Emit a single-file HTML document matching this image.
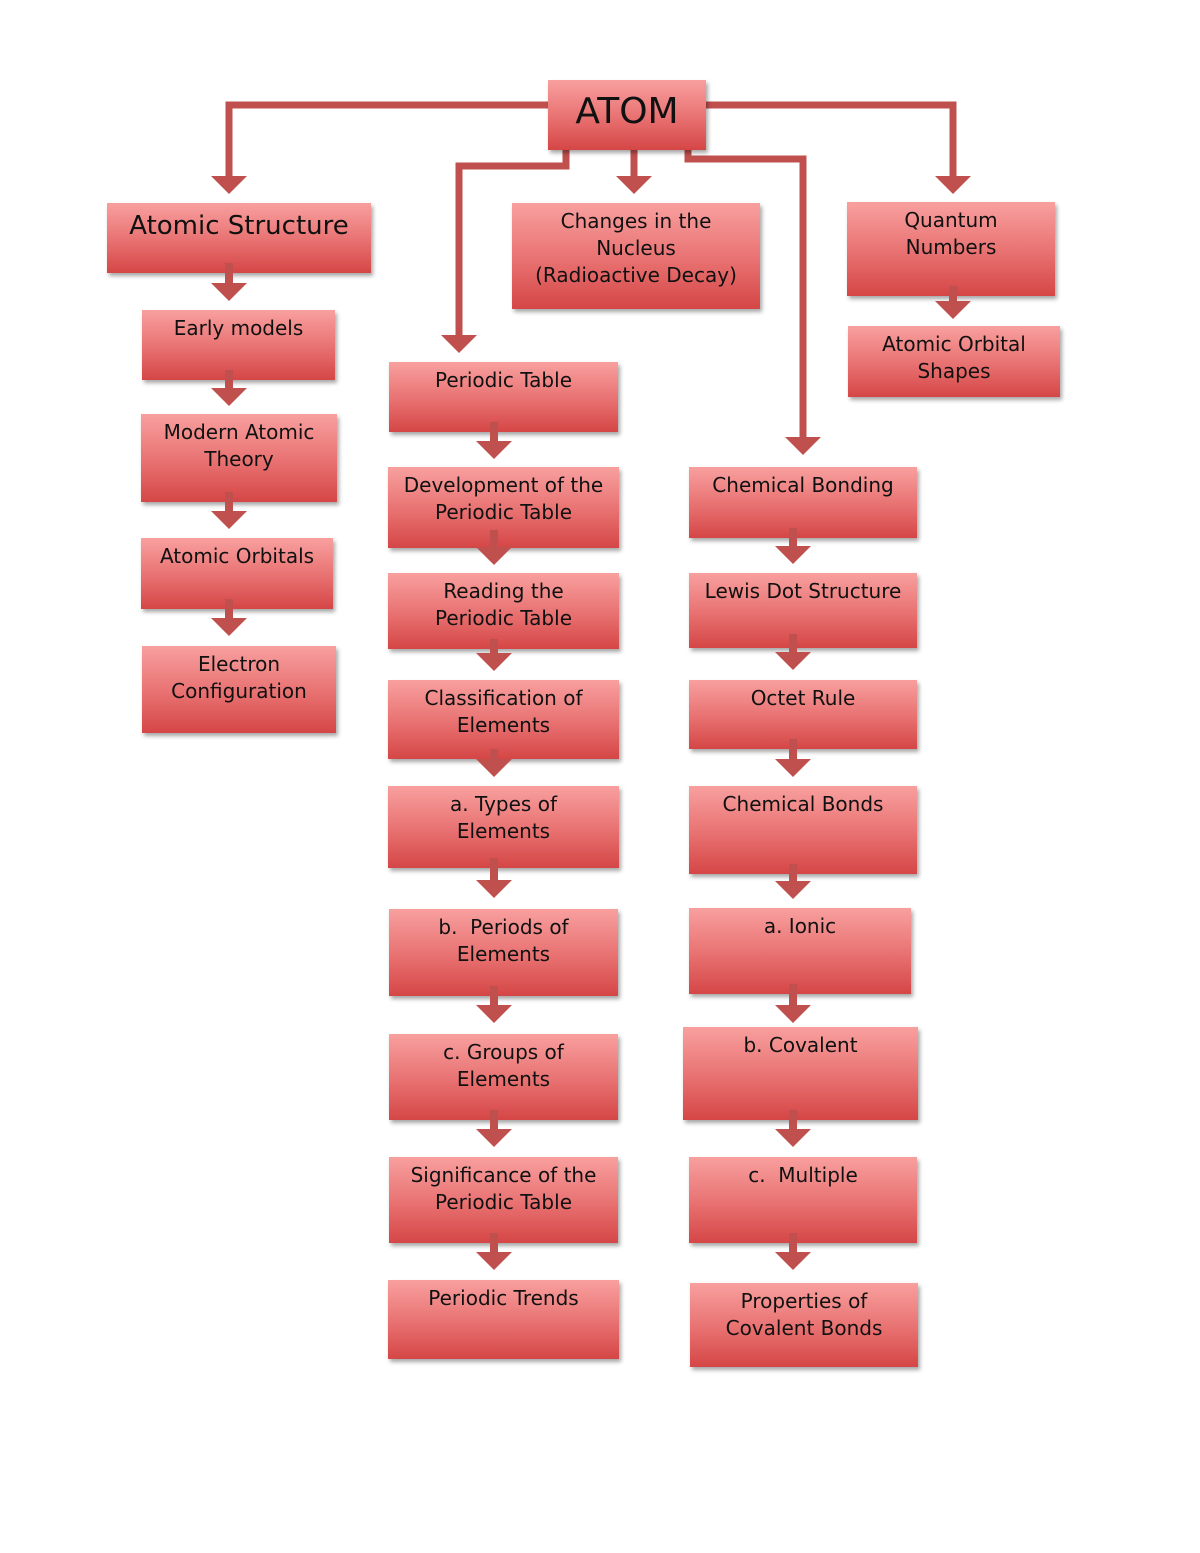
<!DOCTYPE html>
<html><head><meta charset="utf-8"><style>
body{margin:0;background:#fff;width:1200px;height:1553px;position:relative;overflow:hidden;font-family:"DejaVu Sans","Liberation Sans",sans-serif}
.b{position:absolute;box-sizing:border-box;background:linear-gradient(#f8a09f,#e87070 55%,#d54646);box-shadow:2px 3px 4px rgba(0,0,0,0.35);text-align:center;font-size:20px;line-height:27px;color:#111;padding-top:5px}
svg{position:absolute;left:0;top:0}
</style></head><body>
<svg width="1200" height="1553">
<g fill="none" stroke="#c0504d" stroke-width="7">
<polyline points="560,105 229,105 229,178"/>
<polyline points="700,105 953,105 953,178"/>
<polyline points="634,150 634,178"/>
<polyline points="566,150 566,166 459,166 459,337"/>
<polyline points="688,150 688,159 803,159 803,440"/>
</g>
<g fill="#c0504d">
<polygon points="211,176 247,176 229,194"/>
<polygon points="935,176 971,176 953,194"/>
<polygon points="616,176 652,176 634,194"/>
<polygon points="441,335 477,335 459,353"/>
<polygon points="785,437 821,437 803,455"/>
</g>
<g fill="#c0504d" opacity="0.9" id="sm">
</g>
</svg>
<svg width="1200" height="1553" style="z-index:2">
<g fill="#c0504d">
<!-- x, tip -->
<path d="M225,263h8v20h14l-18,18l-18,-18h14z"/>
<path d="M225,370h8v18h14l-18,18l-18,-18h14z"/>
<path d="M225,492h8v19h14l-18,18l-18,-18h14z"/>
<path d="M225,599h8v19h14l-18,18l-18,-18h14z"/>
<path d="M490,422h8v19h14l-18,18l-18,-18h14z"/>
<path d="M490,530h8v17h14l-18,18l-18,-18h14z"/>
<path d="M490,639h8v14h14l-18,18l-18,-18h14z"/>
<path d="M490,749h8v10h14l-18,18l-18,-18h14z"/>
<path d="M490,858h8v22h14l-18,18l-18,-18h14z"/>
<path d="M490,986h8v19h14l-18,18l-18,-18h14z"/>
<path d="M490,1110h8v19h14l-18,18l-18,-18h14z"/>
<path d="M490,1233h8v19h14l-18,18l-18,-18h14z"/>
<path d="M789,528h8v18h14l-18,18l-18,-18h14z"/>
<path d="M789,634h8v18h14l-18,18l-18,-18h14z"/>
<path d="M789,739h8v20h14l-18,18l-18,-18h14z"/>
<path d="M789,864h8v17h14l-18,18l-18,-18h14z"/>
<path d="M789,984h8v21h14l-18,18l-18,-18h14z"/>
<path d="M789,1110h8v19h14l-18,18l-18,-18h14z"/>
<path d="M789,1233h8v19h14l-18,18l-18,-18h14z"/>
<path d="M949,286h8v15h14l-18,18l-18,-18h14z"/>
</g>
</svg>
<div class="b" style="left:548px;top:80px;width:158px;height:70px;font-size:36px;line-height:52px;padding-top:6px">ATOM</div>
<div class="b" style="left:107px;top:203px;width:264px;height:70px;font-size:26px;line-height:38px;padding-top:4px">Atomic Structure</div>
<div class="b" style="left:142px;top:310px;width:193px;height:70px">Early models</div>
<div class="b" style="left:141px;top:414px;width:196px;height:88px">Modern Atomic<br>Theory</div>
<div class="b" style="left:141px;top:538px;width:192px;height:71px">Atomic Orbitals</div>
<div class="b" style="left:142px;top:646px;width:194px;height:87px">Electron<br>Configuration</div>
<div class="b" style="left:512px;top:203px;width:248px;height:106px">Changes in the<br>Nucleus<br>(Radioactive Decay)</div>
<div class="b" style="left:847px;top:202px;width:208px;height:94px">Quantum<br>Numbers</div>
<div class="b" style="left:848px;top:326px;width:212px;height:71px">Atomic Orbital<br>Shapes</div>
<div class="b" style="left:389px;top:362px;width:229px;height:70px">Periodic Table</div>
<div class="b" style="left:388px;top:467px;width:231px;height:81px">Development of the<br>Periodic Table</div>
<div class="b" style="left:388px;top:573px;width:231px;height:76px">Reading the<br>Periodic Table</div>
<div class="b" style="left:388px;top:680px;width:231px;height:79px">Classification of<br>Elements</div>
<div class="b" style="left:388px;top:786px;width:231px;height:82px">a. Types of<br>Elements</div>
<div class="b" style="left:389px;top:909px;width:229px;height:87px">b.&nbsp; Periods of<br>Elements</div>
<div class="b" style="left:389px;top:1034px;width:229px;height:86px">c. Groups of<br>Elements</div>
<div class="b" style="left:389px;top:1157px;width:229px;height:86px">Significance of the<br>Periodic Table</div>
<div class="b" style="left:388px;top:1280px;width:231px;height:79px">Periodic Trends</div>
<div class="b" style="left:689px;top:467px;width:228px;height:71px">Chemical Bonding</div>
<div class="b" style="left:689px;top:573px;width:228px;height:75px">Lewis Dot Structure</div>
<div class="b" style="left:689px;top:680px;width:228px;height:69px">Octet Rule</div>
<div class="b" style="left:689px;top:786px;width:228px;height:88px">Chemical Bonds</div>
<div class="b" style="left:689px;top:908px;width:222px;height:86px">a. Ionic</div>
<div class="b" style="left:683px;top:1027px;width:235px;height:93px">b. Covalent</div>
<div class="b" style="left:689px;top:1157px;width:228px;height:86px">c.&nbsp; Multiple</div>
<div class="b" style="left:690px;top:1283px;width:228px;height:84px">Properties of<br>Covalent Bonds</div>
</body></html>
